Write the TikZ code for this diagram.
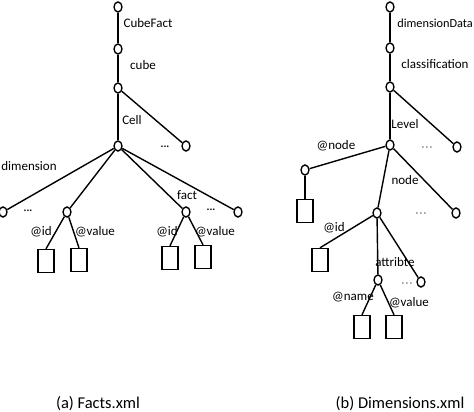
\documentclass[tikz,border=0pt]{standalone}
\usepackage{fontspec}
\setmainfont{Carlito}
\usetikzlibrary{shapes.geometric}
\tikzset{
  vert/.style={draw, ellipse, line width=1.4pt, minimum width=8pt, minimum height=10pt, inner sep=0pt},
  leaf/.style={draw, rectangle, line width=1.4pt, minimum width=16pt, minimum height=23pt, inner sep=0pt},
  lbl/.style={font=\fontsize{13}{14}\selectfont, inner sep=0pt},
  dotlbl/.style={font=\fontsize{11}{12}\selectfont\bfseries, inner sep=0pt},
  captxt/.style={font=\fontsize{16.5}{18}\selectfont, inner sep=0pt},
  link/.style={line width=1.4pt}
}
\begin{document}
\begin{tikzpicture}[x=1pt,y=-1pt]
\useasboundingbox (0,0) rectangle (474,412);
% ---------- left tree ----------
\node[vert] (a1) at (118,7) {};
\node[vert] (a2) at (118,49) {};
\node[vert] (a3) at (118,88) {};
\node[vert] (a4) at (118,146) {};
\node[vert] (a3r) at (186,146) {};
\node[vert] (d1) at (3,212) {};
\node[vert] (d2) at (67,212) {};
\node[vert] (f1) at (186,212) {};
\node[vert] (f2) at (238,212) {};
\node[leaf] (b1) at (46,261) {};
\node[leaf] (b2) at (79,260) {};
\node[leaf] (b3) at (170,258) {};
\node[leaf] (b4) at (203,257) {};
\draw[link] (a1) -- (a2);
\draw[link] (a2) -- (a3);
\draw[link] (a3) -- (a4);
\draw[link] (a3) -- (a3r);
\draw[link] (a4) -- (d1);
\draw[link] (a4) -- (d2);
\draw[link] (a4) -- (f1);
\draw[link] (a4) -- (f2);
\draw[link] (d2) -- (b1.north);
\draw[link] (d2) -- (b2.north);
\draw[link] (f1) -- (b3.north);
\draw[link] (f1) -- (b4.north);
\node[lbl] (lcf) at (148,23) {CubeFact};
\node[lbl] (lcu) at (143,65) {cube};
\node[lbl] (lce) at (132,120) {Cell};
\node[lbl] (ldi) at (29,166) {dimension};
\node[lbl] (lfa) at (187,195) {fact};
\node[lbl] (lid1) at (41,232) {@id};
\node[lbl] (lva1) at (95,232) {@value};
\node[lbl] (lid2) at (167,232) {@id};
\node[lbl] (lva2) at (215,232) {@value};
\node[dotlbl] (ld1) at (165,147) {...};
\node[dotlbl] (ld2) at (28,211) {...};
\node[dotlbl] (ld3) at (211,210) {...};
% ---------- right tree ----------
\node[vert] (r1) at (390,7) {};
\node[vert] (r2) at (390,48) {};
\node[vert] (r3) at (390,87) {};
\node[vert] (r4) at (390,145) {};
\node[vert] (r3r) at (457,147) {};
\node[vert] (rn) at (305,170) {};
\node[vert] (rm) at (377,213) {};
\node[vert] (r4r) at (456,213) {};
\node[vert] (ra) at (378,280) {};
\node[vert] (rmr) at (421,282) {};
\node[leaf] (c1) at (305,211) {};
\node[leaf] (c2) at (320,260) {};
\node[leaf] (c3) at (362,327) {};
\node[leaf] (c4) at (394,327) {};
\draw[link] (r1) -- (r2);
\draw[link] (r2) -- (r3);
\draw[link] (r3) -- (r4);
\draw[link] (r3) -- (r3r);
\draw[link] (r4) -- (rn);
\draw[link] (r4) -- (rm);
\draw[link] (r4) -- (r4r);
\draw[link] (rn) -- (c1.north);
\draw[link] (rm) -- (c2.north);
\draw[link] (rm) -- (ra);
\draw[link] (rm) -- (rmr);
\draw[link] (ra) -- (c3.north);
\draw[link] (ra) -- (c4.north);
\node[lbl, font=\fontsize{12.3}{14}\selectfont, anchor=east] (ldd) at (473,23) {dimensionData};
\node[lbl] (lcl) at (435,64) {classification};
\node[lbl] (lle) at (405,124) {Level};
\node[lbl] (lno) at (336,146) {@node};
\node[lbl] (lnd) at (405,180) {node};
\node[lbl] (lid3) at (334,228) {@id};
\node[lbl] (lat) at (395,262) {attribte};
\node[lbl] (lna) at (353,297) {@name};
\node[lbl] (lva3) at (409,303) {@value};
\node[lbl] (rd1) at (427,148) {$\cdot\!\cdot\!\cdot$};
\node[lbl] (rd2) at (421,214) {$\cdot\!\cdot\!\cdot$};
\node[lbl] (rd3) at (407,284) {$\cdot\!\cdot\!\cdot$};
% ---------- captions ----------
\node[captxt] (capa) at (98,404) {(a) Facts.xml};
\node[captxt] (capb) at (400,404) {(b) Dimensions.xml};
\end{tikzpicture}
\end{document}
